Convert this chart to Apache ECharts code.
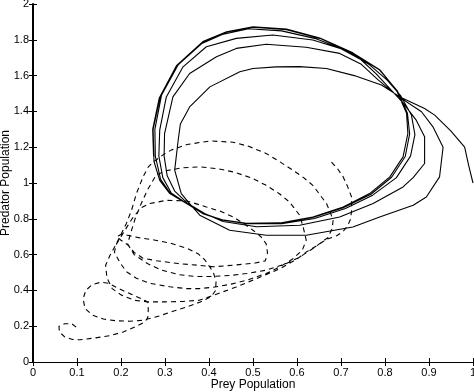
<!DOCTYPE html>
<html>
<head>
<meta charset="utf-8">
<script src="https://cdn.jsdelivr.net/npm/echarts@6/dist/echarts.min.js"></script>
<style>
html,body{margin:0;padding:0;background:#fff;}
#chart{width:474px;height:392px;}
</style>
</head>
<body>
<div id="chart"></div>
<script>
// Axis ticks
const xTicks = [0, 0.1, 0.2, 0.3, 0.4, 0.5, 0.6, 0.7, 0.8, 0.9, 1];
const yTicks = [0, 0.2, 0.4, 0.6, 0.8, 1, 1.2, 1.4, 1.6, 1.8, 2];
const xName = 'Prey Population';
const yName = 'Predator Population';

// Solid trajectory (prey, predator), revolution by revolution
const solidRev0 = [[1.0,1.0],[0.99,1.1],[0.981,1.2],[0.95,1.29],[0.913,1.379],[0.89,1.416],[0.834,1.481],[0.792,1.547],[0.73,1.6],[0.667,1.64],[0.606,1.65],[0.553,1.649],[0.5,1.64],[0.47,1.621],[0.402,1.537],[0.356,1.425],[0.335,1.33],[0.33,1.24],[0.322,1.072],[0.337,0.941],[0.356,0.885],[0.379,0.82],[0.447,0.736],[0.53,0.708],[0.621,0.708],[0.727,0.754],[0.788,0.81],[0.864,0.876],[0.894,0.922],[0.924,1.034],[0.932,1.2],[0.909,1.314],[0.883,1.398]];
const solidRev1 = [[0.826,1.491],[0.785,1.575],[0.745,1.665],[0.697,1.724],[0.621,1.758],[0.53,1.775],[0.462,1.752],[0.417,1.705],[0.356,1.612],[0.318,1.481],[0.299,1.276],[0.298,1.15],[0.305,1.04],[0.322,0.955],[0.352,0.885],[0.39,0.83],[0.432,0.785],[0.508,0.756],[0.606,0.764],[0.697,0.81],[0.773,0.885],[0.841,0.978],[0.864,1.03],[0.89,1.109],[0.89,1.258],[0.871,1.351],[0.84,1.45]];
const solidRev2 = [[0.81,1.53],[0.78,1.61],[0.745,1.69],[0.7,1.75],[0.636,1.799],[0.545,1.827],[0.462,1.808],[0.394,1.761],[0.341,1.649],[0.303,1.481],[0.288,1.295],[0.286,1.15],[0.295,1.03],[0.314,0.945],[0.35,0.885],[0.388,0.83],[0.432,0.792],[0.49,0.772],[0.565,0.772],[0.64,0.802],[0.71,0.857],[0.772,0.932],[0.826,1.03],[0.858,1.15],[0.868,1.27],[0.86,1.38],[0.835,1.49]];
const solidRev3 = [[0.805,1.575],[0.765,1.66],[0.72,1.73],[0.645,1.805],[0.565,1.85],[0.49,1.862],[0.43,1.83],[0.38,1.775],[0.33,1.66],[0.292,1.49],[0.277,1.3],[0.278,1.15],[0.29,1.02],[0.312,0.942],[0.349,0.885],[0.386,0.829],[0.43,0.793],[0.485,0.773],[0.561,0.775],[0.636,0.808],[0.705,0.862],[0.768,0.937],[0.815,1.032],[0.846,1.148],[0.856,1.275],[0.851,1.39],[0.828,1.515]];
const solidRev4 = [[0.788,1.631],[0.727,1.724],[0.652,1.808],[0.576,1.857],[0.5,1.87],[0.44,1.842],[0.386,1.785],[0.326,1.652],[0.288,1.47],[0.273,1.3],[0.275,1.12],[0.288,1.015],[0.311,0.941],[0.349,0.885],[0.386,0.829],[0.43,0.795],[0.485,0.775],[0.561,0.777],[0.636,0.81],[0.705,0.866],[0.765,0.941],[0.811,1.034],[0.841,1.146],[0.852,1.277],[0.849,1.389],[0.826,1.519]];
const solidRev5 = [[0.788,1.633],[0.727,1.727],[0.652,1.81],[0.576,1.86],[0.5,1.872],[0.44,1.845],[0.386,1.79],[0.326,1.655],[0.287,1.475],[0.272,1.3],[0.274,1.15]];

// Dashed trajectory, loop by loop
const dashLoop0 = [[0.098,0.195],[0.088,0.214],[0.072,0.214],[0.059,0.198],[0.06,0.168],[0.072,0.14],[0.09,0.126],[0.106,0.124],[0.14,0.134],[0.174,0.147],[0.205,0.168],[0.235,0.2],[0.255,0.225],[0.261,0.25]];
const dashLoop1 = [[0.262,0.29],[0.261,0.335],[0.246,0.354],[0.22,0.382],[0.193,0.412],[0.172,0.44],[0.155,0.446],[0.135,0.433],[0.12,0.4],[0.114,0.354],[0.118,0.3],[0.135,0.262],[0.16,0.24],[0.19,0.23],[0.22,0.228],[0.25,0.233],[0.288,0.258],[0.32,0.285],[0.349,0.307],[0.38,0.335],[0.405,0.365]];
const dashLoop2 = [[0.415,0.4],[0.416,0.45],[0.41,0.5],[0.402,0.53],[0.39,0.572],[0.375,0.605],[0.35,0.635],[0.315,0.662],[0.275,0.682],[0.24,0.695],[0.215,0.708],[0.2,0.712],[0.19,0.7],[0.2,0.68],[0.215,0.655],[0.23,0.612],[0.25,0.58],[0.28,0.566],[0.33,0.55],[0.379,0.54],[0.41,0.532],[0.46,0.542],[0.505,0.553],[0.528,0.565]];
const dashLoop3 = [[0.533,0.61],[0.53,0.66],[0.518,0.7],[0.5,0.736],[0.478,0.775],[0.455,0.81],[0.425,0.843],[0.394,0.866],[0.35,0.9],[0.303,0.903],[0.265,0.885],[0.245,0.86],[0.225,0.8],[0.205,0.72],[0.19,0.66],[0.185,0.614],[0.197,0.558],[0.212,0.505],[0.235,0.468],[0.265,0.44],[0.311,0.42],[0.349,0.41],[0.379,0.41],[0.417,0.42],[0.45,0.435],[0.485,0.456],[0.53,0.495],[0.56,0.53],[0.59,0.575],[0.612,0.625],[0.621,0.68]];
const dashLoop4 = [[0.614,0.755],[0.606,0.82],[0.583,0.894],[0.56,0.94],[0.53,0.987],[0.495,1.03],[0.455,1.062],[0.42,1.08],[0.379,1.09],[0.34,1.085],[0.305,1.07],[0.28,1.045],[0.26,0.96],[0.245,0.88],[0.232,0.8],[0.222,0.72],[0.215,0.66],[0.23,0.6],[0.26,0.55],[0.29,0.515],[0.333,0.487],[0.37,0.478],[0.409,0.478],[0.45,0.484],[0.485,0.494],[0.53,0.513],[0.576,0.55],[0.606,0.586],[0.64,0.64],[0.67,0.695]];
const dashLoop5 = [[0.68,0.745],[0.682,0.792],[0.675,0.84],[0.667,0.885],[0.636,0.987],[0.615,1.03],[0.591,1.071],[0.56,1.12],[0.53,1.165],[0.49,1.205],[0.454,1.228],[0.402,1.235],[0.35,1.215],[0.315,1.185],[0.297,1.16],[0.275,1.12],[0.262,1.09],[0.25,1.034],[0.235,0.941],[0.224,0.848],[0.212,0.773],[0.197,0.698],[0.186,0.645],[0.175,0.596],[0.165,0.54],[0.168,0.47],[0.18,0.41],[0.2,0.375],[0.23,0.345],[0.261,0.336]];
const dashLoop6 = [[0.3,0.336],[0.34,0.338],[0.378,0.345],[0.409,0.372],[0.462,0.419],[0.508,0.466],[0.561,0.521],[0.6,0.575],[0.621,0.614],[0.645,0.65],[0.667,0.685],[0.69,0.705],[0.705,0.73],[0.715,0.76],[0.722,0.8],[0.724,0.848],[0.724,0.922],[0.715,0.98],[0.705,1.034],[0.692,1.08],[0.678,1.118]];

const solidPath = [].concat(solidRev0, solidRev1, solidRev2, solidRev3, solidRev4, solidRev5);
const dashPath = [].concat(dashLoop0, dashLoop1, dashLoop2, dashLoop3, dashLoop4, dashLoop5, dashLoop6);

const chart = echarts.init(document.getElementById('chart'), null, {renderer: 'canvas'});
const FONT = 'Liberation Sans, Arial, Helvetica, sans-serif';
const lineStyleAxis = {color: '#000', width: 1};
const step = (a) => +(a[1] - a[0]).toFixed(6);

chart.setOption({
  animation: false,
  backgroundColor: '#ffffff',
  grid: {left: 33, right: 1, top: 4, bottom: 30, containLabel: false, outerBoundsMode: 'none'},
  xAxis: [
    {
      type: 'value', min: xTicks[0], max: xTicks[xTicks.length - 1], interval: step(xTicks),
      position: 'bottom',
      name: xName, nameLocation: 'middle', nameGap: 17, nameMoveOverlap: false,
      nameTextStyle: {color: '#000', fontFamily: FONT, fontSize: 12, verticalAlign: 'top'},
      axisLine: {show: true, lineStyle: lineStyleAxis},
      axisTick: {show: true, inside: true, length: 4, lineStyle: lineStyleAxis},
      axisLabel: {color: '#000', fontFamily: FONT, fontSize: 11, margin: 5},
      splitLine: {show: false}
    },
    {
      type: 'value', min: xTicks[0], max: xTicks[xTicks.length - 1], interval: step(xTicks),
      position: 'top',
      axisLine: {show: true, lineStyle: lineStyleAxis},
      axisTick: {show: true, inside: true, length: 4, lineStyle: lineStyleAxis},
      axisLabel: {show: false},
      splitLine: {show: false}
    }
  ],
  yAxis: [
    {
      type: 'value', min: yTicks[0], max: yTicks[yTicks.length - 1], interval: step(yTicks),
      position: 'left',
      name: yName, nameLocation: 'middle', nameGap: 21, nameRotate: 90, nameMoveOverlap: false,
      nameTextStyle: {color: '#000', fontFamily: FONT, fontSize: 12, verticalAlign: 'bottom'},
      axisLine: {show: true, lineStyle: lineStyleAxis},
      axisTick: {show: true, inside: true, length: 4, lineStyle: lineStyleAxis},
      axisLabel: {color: '#000', fontFamily: FONT, fontSize: 11, margin: 4},
      splitLine: {show: false}
    },
    {
      type: 'value', min: yTicks[0], max: yTicks[yTicks.length - 1], interval: step(yTicks),
      position: 'right',
      axisLine: {show: true, lineStyle: {color: '#000', width: 2}},
      axisTick: {show: true, inside: true, length: 4, lineStyle: lineStyleAxis},
      axisLabel: {show: false},
      splitLine: {show: false}
    }
  ],
  series: [
    {
      type: 'line', xAxisIndex: 0, yAxisIndex: 0,
      data: solidPath, showSymbol: false, symbol: 'none', smooth: false,
      lineStyle: {color: '#000', width: 1.1, type: 'solid'}, z: 3
    },
    {
      type: 'line', xAxisIndex: 0, yAxisIndex: 0,
      data: dashPath, showSymbol: false, symbol: 'none', smooth: false,
      lineStyle: {color: '#000', width: 1.1, type: [5, 4]}, z: 2
    }
  ]
});
</script>
</body>
</html>
